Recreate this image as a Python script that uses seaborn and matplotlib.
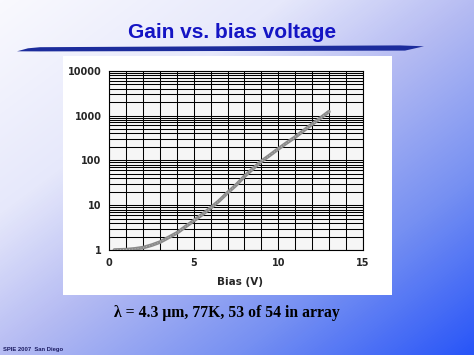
import numpy as np
import pandas as pd
import matplotlib
matplotlib.use("Agg")
import matplotlib.pyplot as plt
import seaborn as sns
from matplotlib.colors import LinearSegmentedColormap
from matplotlib.patches import Rectangle, Polygon
from matplotlib.ticker import LogLocator, FixedLocator, MultipleLocator, FuncFormatter, NullFormatter

# ---- data ----
bias_v = [0.3, 1.0, 1.5, 2.0, 2.5, 3.0, 3.5, 4.0, 4.5, 5.0, 5.5, 6.0, 6.5, 7.0, 7.5, 8.0,
          8.5, 9.0, 9.5, 10.0, 10.5, 11.0, 11.5, 12.0, 12.5, 13.0]
gain = [1.0, 1.02, 1.06, 1.13, 1.28, 1.5, 1.9, 2.4, 3.3, 4.5, 6.2, 8.7, 12.5, 19, 28, 44,
        65, 95, 130, 180, 245, 330, 460, 640, 880, 1220]
x_ticks = [0, 5, 10, 15]
y_ticks = [1, 10, 100, 1000, 10000]
y_tick_labels = ["1", "10", "100", "1000", "10000"]
title = "Gain vs. bias voltage"
x_label = "Bias (V)"
caption = "\u03bb = 4.3 \u03bcm, 77K, 53 of 54 in array"
footer = "SPIE 2007  San Diego"

df = pd.DataFrame({"bias": bias_v, "gain": gain})

sns.set_style("white")
plt.rcParams["font.family"] = ["DejaVu Sans"]

W, H = 474, 355
fig = plt.figure(figsize=(W / 100, H / 100), dpi=100)

# ---- slide background gradient ----
bg = fig.add_axes([0, 0, 1, 1], zorder=-10)
xx, yy = np.meshgrid(np.linspace(0, 1, W), np.linspace(0, 1, H))
t = 0.5 * xx + 0.5 * yy
cmap = LinearSegmentedColormap.from_list(
    "slide", [(0.0, "#f9f9fe"), (0.3, "#e6e8fb"), (0.5, "#b6bcf3"), (0.75, "#7690f2"), (1.0, "#2855f8")])
bg.imshow(t, cmap=cmap, vmin=0, vmax=1, aspect="auto", extent=(0, W, H, 0))
bg.set_xlim(0, W)
bg.set_ylim(H, 0)
bg.axis("off")

# white panel behind chart
bg.add_patch(Rectangle((63, 55.5), 392 - 63, 295 - 55.5, facecolor="white", edgecolor="none"))

# swoosh under title
bg.add_patch(Polygon([(17, 51.3), (28, 48.3), (40, 47.2), (400, 45.4), (424, 46.3),
                      (405, 50.6), (40, 51.4)], closed=True, facecolor="#1c2c9c", edgecolor="none"))

# texts
bg.text(232, 33, title, ha="center", va="center", fontsize=15, fontweight="bold",
        color="#1414c4", family=["Liberation Sans", "DejaVu Sans"])
bg.text(227, 313, caption, ha="center", va="center", fontsize=11.3, fontweight="bold",
        color="black", family=["Liberation Serif", "DejaVu Serif"])
bg.text(3, 350, footer, ha="left", va="center", fontsize=4.2, fontweight="bold",
        color="#1a1a60", family=["Liberation Sans", "DejaVu Sans"])

# ---- chart ----
ax = fig.add_axes([109.3 / W, 1 - 250 / H, 253.4 / W, 179.3 / H])
ax.set_facecolor("#f6f6f6")
sns.lineplot(data=df, x="bias", y="gain", ax=ax, color="#8a8a8a", lw=2.6, zorder=5)
sns.lineplot(data=df, x="bias", y="gain", ax=ax, color="#c4c4c4", lw=0.6,
             linestyle=(0, (1, 2.5)), zorder=6)
ax.set_yscale("log")
ax.set_xlim(0, 15)
ax.set_ylim(1, 10000)

ax.xaxis.set_major_locator(FixedLocator(x_ticks))
ax.xaxis.set_minor_locator(MultipleLocator(1))
ax.yaxis.set_major_locator(FixedLocator(y_ticks))
ax.yaxis.set_major_formatter(FuncFormatter(lambda v, p: y_tick_labels[y_ticks.index(int(round(v)))] if int(round(v)) in y_ticks else ""))
ax.yaxis.set_minor_locator(LogLocator(base=10, subs=np.arange(2, 10)))
ax.yaxis.set_minor_formatter(NullFormatter())

ax.grid(True, which="both", axis="both", color="black", lw=0.75)
ax.set_axisbelow(True)
ax.tick_params(which="major", direction="out", length=2.5, width=0.7, color="black",
               labelsize=7, pad=3)
ax.tick_params(which="minor", length=0)
for lab in ax.get_xticklabels() + ax.get_yticklabels():
    lab.set_fontweight("bold")
for s in ax.spines.values():
    s.set_color("black")
    s.set_linewidth(0.8)

ax.set_xlabel(x_label, fontsize=7.5, fontweight="bold", labelpad=5)
ax.xaxis.set_label_coords((240 - 109.3) / 253.4, -(277 - 250) / 179.3)
ax.set_ylabel("")

fig.savefig("out.png", dpi=100)
